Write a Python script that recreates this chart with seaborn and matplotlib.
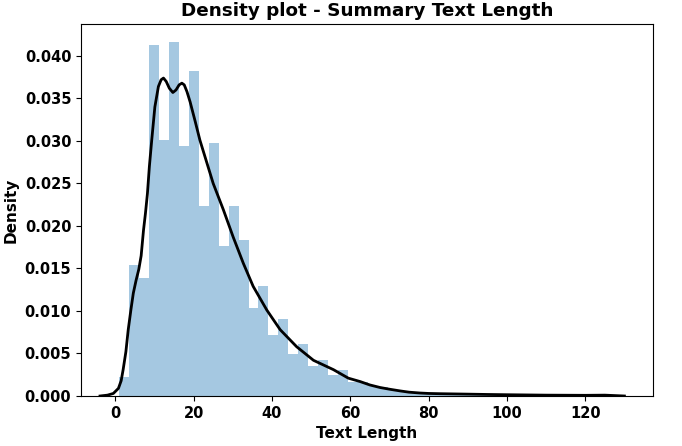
import numpy as np
import pandas as pd
import matplotlib
matplotlib.use("Agg")
import matplotlib.pyplot as plt
import seaborn as sns

# histogram: 50 equal bins between the min and max text length
data_min = 1
data_max = 128
n_bins = 50
bar_heights = [
    0.0022, 0.0154, 0.0139, 0.0413, 0.0301, 0.0416, 0.0294, 0.0382, 0.0223, 0.0298,
    0.0176, 0.0224, 0.0184, 0.0104, 0.0129, 0.0072, 0.0091, 0.0049, 0.0061, 0.0035,
    0.0042, 0.0025, 0.0030, 0.0016, 0.0017, 0.0012, 0.0010, 0.0007, 0.0005, 0.0004,
    0.0003, 0.00025, 0.0002, 0.0002, 0.00015, 0.00012, 0.0001, 0.0001, 0.00008, 0.00006,
    0.00005, 0.00004, 0.00004, 0.00003, 0.00003, 0.00002, 0.00002, 0.00002, 0.00001, 0.00002,
]

# kde curve
kde_x = [-3.9, -2, -0.5, 0.8, 1.5, 2.0, 2.7, 3.3, 4.0, 4.6, 5.3, 6.0, 6.6, 7.2, 7.7,
         8.2, 8.7, 9.3, 10.1, 11.0, 11.7, 12.3, 13.0, 13.8, 14.7, 15.5, 16.3, 17.0,
         17.6, 18.3, 19.1, 20.4, 21.6, 23.0, 25.0, 27.6, 30.1, 32.7, 35.2, 38.7, 42.1,
         46.3, 50.6, 55.7, 59.5, 62.5, 65.0, 67.6, 70.0, 72.7, 75.0, 77.8, 80.0, 82.9,
         89.8, 95, 100, 110, 120, 125, 130]
kde_y = [0, 0.0001, 0.0003, 0.0009, 0.0018, 0.0031, 0.0052, 0.0078, 0.0102, 0.0121,
         0.0136, 0.0149, 0.0165, 0.0195, 0.0215, 0.0238, 0.0270, 0.0301, 0.0340, 0.0364,
         0.0372, 0.0374, 0.0370, 0.0362, 0.0357, 0.0360, 0.0366, 0.0368, 0.0366, 0.0358,
         0.0346, 0.0323, 0.0301, 0.0280, 0.0250, 0.0219, 0.0187, 0.0156, 0.0129, 0.0101,
         0.0078, 0.0058, 0.0042, 0.0031, 0.0021, 0.0017, 0.0013, 0.0010, 0.0008, 0.0006,
         0.00045, 0.00035, 0.0003, 0.00027, 0.00022, 0.00018, 0.00015, 0.0001, 0.00008,
         0.0001, 0.0]

bin_w = (data_max - data_min) / n_bins
bin_centers = [data_min + bin_w * (i + 0.5) for i in range(n_bins)]
hist_df = pd.DataFrame({"len": bin_centers, "dens": bar_heights})
kde_df = pd.DataFrame({"x": kde_x, "y": kde_y})

fig = plt.figure(figsize=(6.82, 4.46), dpi=100)
ax = fig.add_axes([81 / 682, 1 - 396 / 446, 572 / 682, 372 / 446])

sns.histplot(data=hist_df, x="len", weights="dens", bins=n_bins,
             binrange=(data_min, data_max), stat="count",
             color="#1f77b4", alpha=0.4, linewidth=0, ax=ax)
sns.lineplot(data=kde_df, x="x", y="y", sort=False, color="black", linewidth=2, ax=ax)

ax.set_xlim(-8.76, 137.3)
ax.set_ylim(0, 0.04376)
ax.set_xticks(range(0, 121, 20))
ax.set_yticks(np.arange(0, 0.0401, 0.005))
ax.yaxis.set_major_formatter(matplotlib.ticker.FormatStrFormatter("%.3f"))
for lab in ax.get_xticklabels() + ax.get_yticklabels():
    lab.set_fontweight("bold")
    lab.set_fontsize(10.5)
ax.set_xlabel("Text Length", fontweight="bold", fontsize=11)
ax.set_ylabel("Density", fontweight="bold", fontsize=11)
ax.set_title("Density plot - Summary Text Length", fontweight="bold", fontsize=13.2)

fig.savefig("out.png", dpi=100)
